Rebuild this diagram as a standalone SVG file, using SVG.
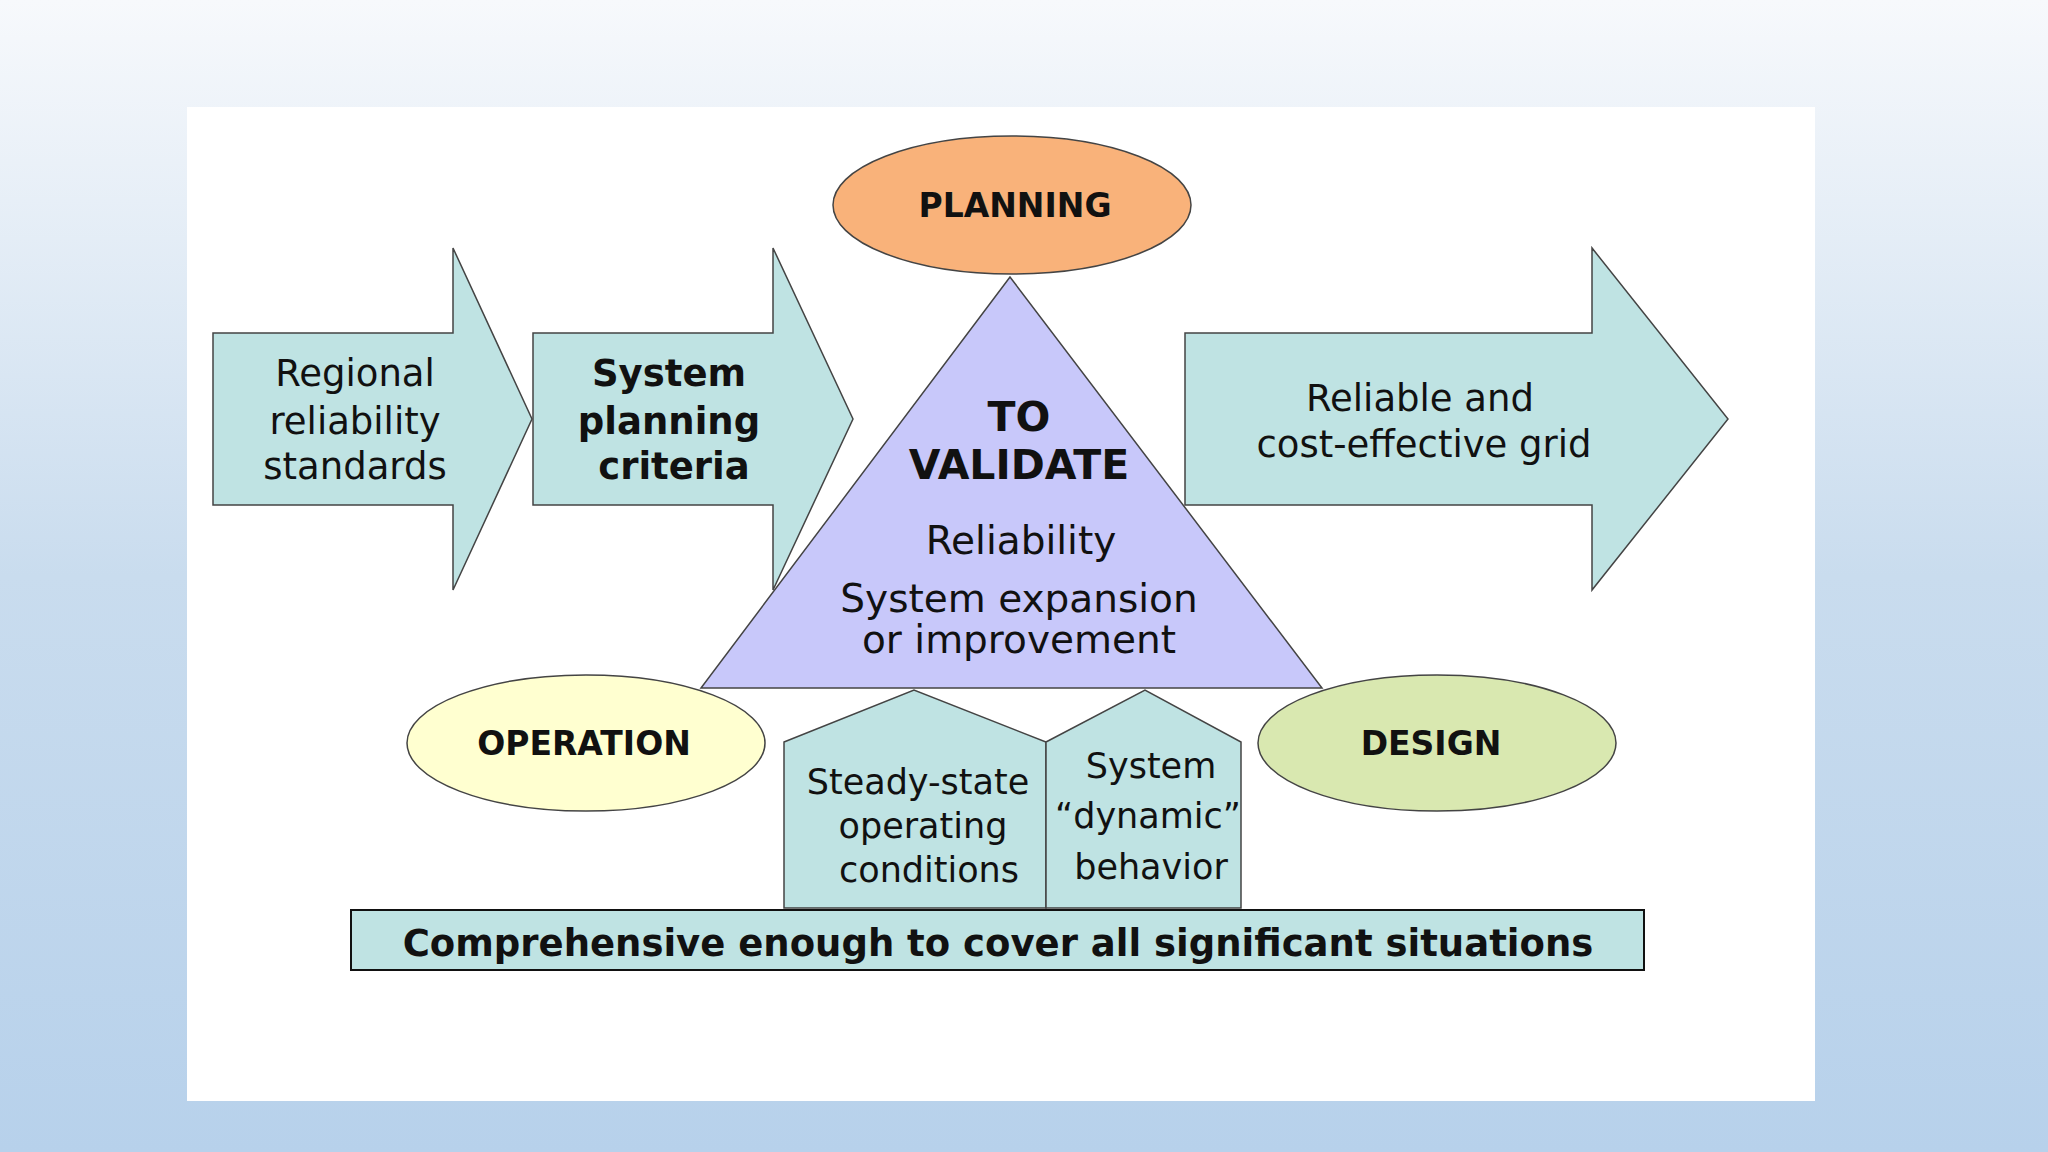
<svg xmlns="http://www.w3.org/2000/svg" width="2048" height="1152" viewBox="0 0 2048 1152">
<defs>
<linearGradient id="bg" x1="0" y1="0" x2="0" y2="1">
<stop offset="0" stop-color="#f7f9fc"/><stop offset="0.5" stop-color="#c9dcee"/><stop offset="1" stop-color="#b7d1eb"/>
</linearGradient>
<style>
.sh{fill:#bfe3e3;stroke:#444;stroke-width:1.5}
text{font-family:"DejaVu Sans",Verdana,sans-serif;fill:#111;text-anchor:middle}
.t{font-size:37px}
.b{font-size:37px;font-weight:bold}
.lb{font-size:33px;font-weight:bold}
</style>
</defs>
<rect width="2048" height="1152" fill="url(#bg)"/>
<rect x="187" y="107" width="1628" height="994" fill="#fff"/>
<g id="connectors"></g>
<g id="arrow1"><polygon class="sh" points="213,333 453,333 453,248 532,419 453,590 453,505 213,505"/>
<text class="t" x="355" y="386">Regional</text><text class="t" x="355" y="434">reliability</text><text class="t" x="355" y="479">standards</text></g>
<g id="arrow2"><polygon class="sh" points="533,333 773,333 773,248 853,419 773,590 773,505 533,505"/>
<text class="b" x="669" y="386">System</text><text class="b" x="669" y="434">planning</text><text class="b" x="674" y="479">criteria</text></g>
<g id="arrow3"><polygon class="sh" points="1185,333 1592,333 1592,248 1728,419 1592,590 1592,505 1185,505"/>
<text class="t" x="1420" y="411">Reliable and</text><text class="t" x="1424" y="457">cost-effective grid</text></g>
<g id="triangle"><polygon points="1010,277 701,688 1322,688" fill="#c8c8fa" stroke="#444" stroke-width="1.5"/>
<text class="b" x="1019" y="431" style="font-size:41px">TO</text><text class="b" x="1019" y="479" style="font-size:41px">VALIDATE</text>
<text class="t" x="1021" y="554" style="font-size:39px">Reliability</text>
<text class="t" x="1019" y="612" style="font-size:39px">System expansion</text><text class="t" x="1019" y="653" style="font-size:39px">or improvement</text></g>
<g id="planning"><ellipse cx="1012" cy="205" rx="179" ry="69" fill="#f9b27a" stroke="#444" stroke-width="1.5"/><text class="lb" x="1015" y="217">PLANNING</text></g>
<g id="operation"><ellipse cx="586" cy="743" rx="179" ry="68" fill="#ffffd0" stroke="#444" stroke-width="1.5"/><text class="lb" x="584" y="755">OPERATION</text></g>
<g id="design"><ellipse cx="1437" cy="743" rx="179" ry="68" fill="#d9e8b0" stroke="#444" stroke-width="1.5"/><text class="lb" x="1431" y="755">DESIGN</text></g>
<g id="steady"><polygon class="sh" points="784,742 914,690 1046,742 1046,908 784,908"/>
<text class="t" x="918" y="794" style="font-size:35px">Steady-state</text><text class="t" x="923" y="838" style="font-size:35px">operating</text><text class="t" x="929" y="882" style="font-size:35px">conditions</text></g>
<g id="dynamic"><polygon class="sh" points="1046,742 1145,690 1241,742 1241,908 1046,908"/>
<text class="t" x="1151" y="778" style="font-size:35px">System</text><text class="t" x="1148" y="828" style="font-size:35px">“dynamic”</text><text class="t" x="1151" y="879" style="font-size:35px">behavior</text></g>
<g id="bottom"><rect class="sh" x="351" y="910" width="1293" height="60" style="stroke:#111;stroke-width:2"/>
<text class="b" x="998" y="956">Comprehensive enough to cover all significant situations</text></g>
</svg>
